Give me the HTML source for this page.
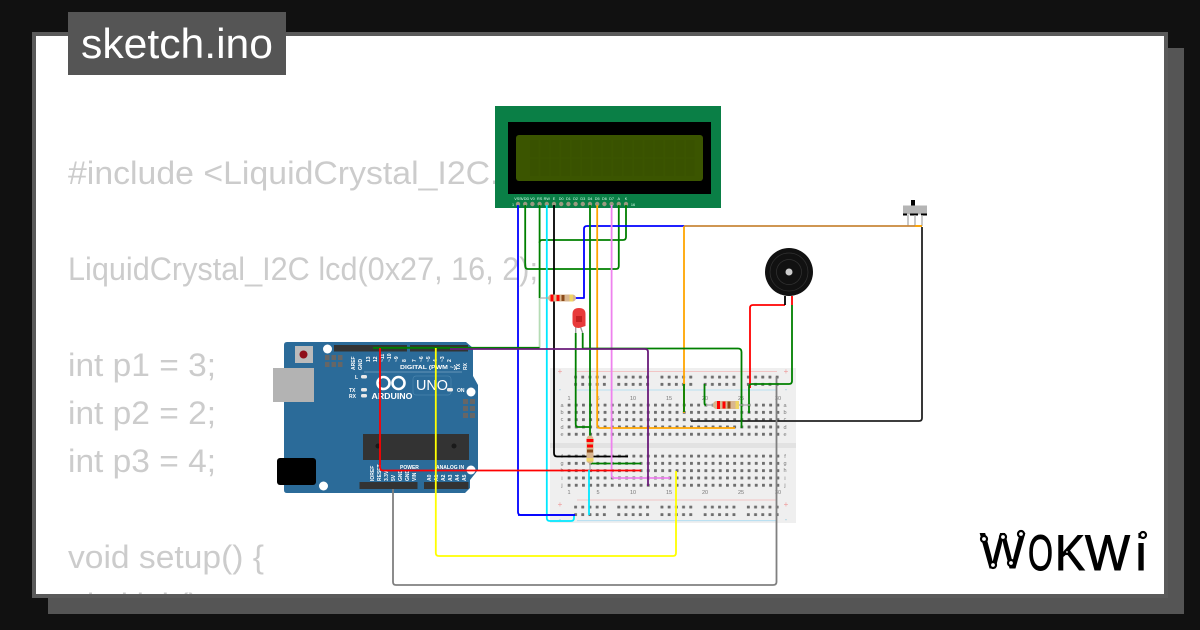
<!DOCTYPE html>
<html><head><meta charset="utf-8"><style>
html,body{margin:0;padding:0;background:#111;width:1200px;height:630px;overflow:hidden}
svg{display:block}
text{font-family:"Liberation Sans",sans-serif}
</style></head><body>
<svg width="1200" height="630" viewBox="0 0 1200 630" xmlns="http://www.w3.org/2000/svg">
<defs>
<pattern id="mh" x="567.6" y="403.6" width="7.2" height="7.3" patternUnits="userSpaceOnUse"><rect x="0" y="0" width="2.9" height="2.9" rx=".4" fill="#6e6e6e"/></pattern>
<pattern id="rh" x="574.1" y="375.6" width="43.2" height="7.3" patternUnits="userSpaceOnUse"><rect x="0" width="2.9" height="2.9" rx=".4" fill="#6e6e6e"/><rect x="7.2" width="2.9" height="2.9" rx=".4" fill="#6e6e6e"/><rect x="14.4" width="2.9" height="2.9" rx=".4" fill="#6e6e6e"/><rect x="21.6" width="2.9" height="2.9" rx=".4" fill="#6e6e6e"/><rect x="28.8" width="2.9" height="2.9" rx=".4" fill="#6e6e6e"/></pattern>
<pattern id="rh2" x="574.1" y="505.6" width="43.2" height="7.6" patternUnits="userSpaceOnUse"><rect x="0" width="2.9" height="2.9" rx=".4" fill="#6e6e6e"/><rect x="7.2" width="2.9" height="2.9" rx=".4" fill="#6e6e6e"/><rect x="14.4" width="2.9" height="2.9" rx=".4" fill="#6e6e6e"/><rect x="21.6" width="2.9" height="2.9" rx=".4" fill="#6e6e6e"/><rect x="28.8" width="2.9" height="2.9" rx=".4" fill="#6e6e6e"/></pattern>
<pattern id="mh2" x="567.6" y="454.6" width="7.2" height="7.3" patternUnits="userSpaceOnUse"><rect x="0" y="0" width="2.9" height="2.9" rx=".4" fill="#6e6e6e"/></pattern>
<pattern id="cells" x="530" y="140" width="10.4" height="18.5" patternUnits="userSpaceOnUse"><rect width="8.8" height="17.5" fill="#395200"/></pattern>
<clipPath id="paper"><rect x="36" y="36" width="1128" height="558"/></clipPath>
</defs>
<rect width="1200" height="630" fill="#111"/>
<rect x="48" y="48" width="1136" height="566" fill="#555"/>
<rect x="34" y="34" width="1132" height="562" fill="#fff" stroke="#5a5a5a" stroke-width="4"/>
<g clip-path="url(#paper)" fill="#ccc" font-size="32">
<text x="68" y="184" textLength="470" lengthAdjust="spacingAndGlyphs">#include &lt;LiquidCrystal_I2C.h&gt;</text>
<text x="68" y="280" textLength="470" lengthAdjust="spacingAndGlyphs">LiquidCrystal_I2C lcd(0x27, 16, 2);</text>
<text x="68" y="376" textLength="148" lengthAdjust="spacingAndGlyphs">int p1 = 3;</text>
<text x="68" y="424" textLength="148" lengthAdjust="spacingAndGlyphs">int p2 = 2;</text>
<text x="68" y="472" textLength="148" lengthAdjust="spacingAndGlyphs">int p3 = 4;</text>
<text x="68" y="568" textLength="196" lengthAdjust="spacingAndGlyphs">void setup() {</text>
<text x="87" y="616">lcd.init();</text>
</g>
<rect x="68" y="12" width="218" height="63" fill="#555"/>
<text x="81" y="58" font-size="42" fill="#fff" textLength="192" lengthAdjust="spacingAndGlyphs">sketch.ino</text>

<!-- breadboard -->
<rect x="550" y="368" width="246" height="155" fill="#efefef"/>
<rect x="550" y="443" width="246" height="5" fill="#e2e2e2"/>
<path d="M577 371.500H777M577 500H777" stroke="#f3b8b8" stroke-width=".8"/>
<path d="M577 390H777M577 520.700H777" stroke="#a8dcf2" stroke-width=".8"/>
<rect x="574.100" y="375.600" width="212" height="11" fill="url(#rh)"/>
<rect x="574.100" y="505.600" width="212" height="11" fill="url(#rh2)"/>
<rect x="567.600" y="403.600" width="213" height="33" fill="url(#mh)"/>
<rect x="567.600" y="454.600" width="213" height="33" fill="url(#mh2)"/>
<g font-size="5.500" fill="#777" text-anchor="middle">
<text x="569" y="400">1</text><text x="598" y="400">5</text><text x="633" y="400">10</text><text x="669" y="400">15</text><text x="705" y="400">20</text><text x="741" y="400">25</text><text x="778" y="400">30</text>
<text x="569" y="494">1</text><text x="598" y="494">5</text><text x="633" y="494">10</text><text x="669" y="494">15</text><text x="705" y="494">20</text><text x="741" y="494">25</text><text x="778" y="494">30</text>
<text x="562" y="407">a</text><text x="562" y="414">b</text><text x="562" y="421">c</text><text x="562" y="429">d</text><text x="562" y="436">e</text>
<text x="785" y="407">a</text><text x="785" y="414">b</text><text x="785" y="421">c</text><text x="785" y="429">d</text><text x="785" y="436">e</text>
<text x="562" y="458">f</text><text x="562" y="465">g</text><text x="562" y="472">h</text><text x="562" y="480">i</text><text x="562" y="487">j</text>
<text x="785" y="458">f</text><text x="785" y="465">g</text><text x="785" y="472">h</text><text x="785" y="480">i</text><text x="785" y="487">j</text>
</g>
<g font-size="8" text-anchor="middle">
<text x="560" y="374" fill="#e99">+</text><text x="786" y="374" fill="#e99">+</text><text x="560" y="507" fill="#e99">+</text><text x="786" y="507" fill="#e99">+</text>
<text x="560" y="392" fill="#9cd">-</text><text x="786" y="392" fill="#9cd">-</text><text x="560" y="522" fill="#9cd">-</text><text x="786" y="522" fill="#9cd">-</text>
</g>

<!-- LCD -->
<rect x="495" y="106" width="226" height="102" fill="#0a7f46"/>
<rect x="508" y="122" width="203" height="72" fill="#000"/>
<rect x="516" y="135" width="187" height="46" rx="3" fill="#3b5500"/>
<rect x="530" y="140" width="166" height="36" fill="url(#cells)"/>
<g fill="#9a9a80">
<circle cx="518" cy="204" r="2.200"/><circle cx="525.200" cy="204" r="2.200"/><circle cx="532.400" cy="204" r="2.200"/><circle cx="539.600" cy="204" r="2.200"/><circle cx="546.800" cy="204" r="2.200"/><circle cx="554" cy="204" r="2.200"/><circle cx="561.200" cy="204" r="2.200"/><circle cx="568.400" cy="204" r="2.200"/><circle cx="575.600" cy="204" r="2.200"/><circle cx="582.800" cy="204" r="2.200"/><circle cx="590" cy="204" r="2.200"/><circle cx="597.200" cy="204" r="2.200"/><circle cx="604.400" cy="204" r="2.200"/><circle cx="611.600" cy="204" r="2.200"/><circle cx="618.800" cy="204" r="2.200"/><circle cx="626" cy="204" r="2.200"/>
</g>
<g font-size="3.800" fill="#dfe" text-anchor="middle">
<text x="518" y="200">VSS</text><text x="525.200" y="200">VDD</text><text x="532.400" y="200">V0</text><text x="539.600" y="200">RS</text><text x="546.800" y="200">RW</text><text x="554" y="200">E</text><text x="561.200" y="200">D0</text><text x="568.400" y="200">D1</text><text x="575.600" y="200">D2</text><text x="582.800" y="200">D3</text><text x="590" y="200">D4</text><text x="597.200" y="200">D5</text><text x="604.400" y="200">D6</text><text x="611.600" y="200">D7</text><text x="618.800" y="200">A</text><text x="626" y="200">K</text>
<text x="513" y="206">1</text><text x="633" y="206">16</text>
</g>

<!-- Arduino -->
<path d="M287 342H466L473 348V376L478 385V470L470 480V488L465 493H287Q284 493 284 490V345Q284 342 287 342Z" fill="#2b6b99"/>
<rect x="273" y="368" width="41" height="34" fill="#b3b3b3"/>
<rect x="277" y="458" width="39" height="27" rx="3" fill="#000"/>
<rect x="295" y="346" width="18" height="17" fill="#bbb"/>
<circle cx="303.500" cy="354.500" r="4" fill="#8f0f1a"/>
<circle cx="327.500" cy="349" r="4.500" fill="#fff"/><circle cx="471" cy="392" r="4.500" fill="#fff"/><circle cx="323.500" cy="486" r="4.500" fill="#fff"/><circle cx="471" cy="470" r="4.500" fill="#fff"/>
<rect x="334" y="345" width="73" height="6.500" fill="#333"/><rect x="410" y="345" width="58" height="6.500" fill="#333"/>
<rect x="359.500" y="482" width="58" height="7" fill="#333"/><rect x="424" y="482" width="44.500" height="7" fill="#333"/>
<g fill="#666"><rect x="325" y="355" width="4.500" height="5"/><rect x="325" y="362" width="4.500" height="5"/><rect x="331.500" y="355" width="4.500" height="5"/><rect x="331.500" y="362" width="4.500" height="5"/><rect x="338" y="355" width="4.500" height="5"/><rect x="338" y="362" width="4.500" height="5"/>
<rect x="463" y="399" width="5" height="5"/><rect x="470" y="399" width="5" height="5"/><rect x="463" y="406" width="5" height="5"/><rect x="470" y="406" width="5" height="5"/><rect x="463" y="413" width="5" height="5"/><rect x="470" y="413" width="5" height="5"/></g>
<rect x="363" y="434" width="106" height="26" fill="#333"/>
<circle cx="378" cy="446" r="2.500" fill="#1a1a1a"/><circle cx="454" cy="446" r="2.500" fill="#1a1a1a"/>
<circle cx="383.500" cy="383" r="6" fill="none" stroke="#fff" stroke-width="2.600"/><circle cx="398.500" cy="383" r="6" fill="none" stroke="#fff" stroke-width="2.600"/>
<text x="371.500" y="399" font-size="8" font-weight="bold" fill="#fff" textLength="41" lengthAdjust="spacingAndGlyphs">ARDUINO</text>
<text x="416" y="390" font-size="15" fill="#fff" textLength="32" lengthAdjust="spacingAndGlyphs">UNO</text>
<rect x="413" y="376" width="38" height="19" rx="3" fill="none" stroke="#4a85ad" stroke-width=".7"/>
<text x="400" y="369" font-size="5.300" font-weight="bold" fill="#fff" textLength="56" lengthAdjust="spacingAndGlyphs">DIGITAL (PWM ~)</text>
<path d="M364 372H462" stroke="#9dbdd3" stroke-width=".5"/>
<g fill="#fff" font-size="5" font-weight="bold">
<text transform="translate(355 370) rotate(-90)">AREF</text><text transform="translate(362 370) rotate(-90)">GND</text>
<text transform="translate(370 362) rotate(-90)">13</text><text transform="translate(377 362) rotate(-90)">12</text><text transform="translate(384 362) rotate(-90)">~11</text><text transform="translate(391 362) rotate(-90)">~10</text><text transform="translate(398 362) rotate(-90)">~9</text><text transform="translate(406 362) rotate(-90)">8</text>
<text transform="translate(416 362) rotate(-90)">7</text><text transform="translate(423 362) rotate(-90)">~6</text><text transform="translate(430 362) rotate(-90)">~5</text><text transform="translate(437 362) rotate(-90)">4</text><text transform="translate(444 362) rotate(-90)">~3</text><text transform="translate(451 362) rotate(-90)">2</text><text transform="translate(460 370) rotate(-90)">TX</text><text transform="translate(467 370) rotate(-90)">RX</text>
<text transform="translate(374 481) rotate(-90)">IOREF</text><text transform="translate(381 481) rotate(-90)">RESET</text><text transform="translate(388 481) rotate(-90)">3.3V</text><text transform="translate(395 481) rotate(-90)">5V</text><text transform="translate(402 481) rotate(-90)">GND</text><text transform="translate(409 481) rotate(-90)">GND</text><text transform="translate(416 481) rotate(-90)">VIN</text>
<text transform="translate(431 481) rotate(-90)">A0</text><text transform="translate(438 481) rotate(-90)">A1</text><text transform="translate(445 481) rotate(-90)">A2</text><text transform="translate(452 481) rotate(-90)">A3</text><text transform="translate(459 481) rotate(-90)">A4</text><text transform="translate(466 481) rotate(-90)">A5</text>
<text x="400" y="469">POWER</text><text x="436" y="469">ANALOG IN</text>
<text x="355" y="379">L</text><text x="349" y="392">TX</text><text x="349" y="398">RX</text><text x="457" y="392">ON</text>
</g>
<g fill="#e8e8e8"><rect x="361" y="375" width="6" height="3.500" rx="1.500"/><rect x="361" y="388" width="6" height="3.500" rx="1.500"/><rect x="361" y="394" width="6" height="3.500" rx="1.500"/><rect x="447" y="388" width="6" height="3.500" rx="1.500"/></g>

<!-- buzzer, switch -->
<circle cx="789" cy="272" r="24" fill="#111"/>
<circle cx="789" cy="272" r="19" fill="none" stroke="#333" stroke-width=".7"/><circle cx="789" cy="272" r="12.500" fill="none" stroke="#333" stroke-width=".7"/>
<circle cx="789" cy="272" r="3.500" fill="#ccc"/>
<rect x="911" y="200" width="4" height="6" fill="#000"/>
<rect x="903" y="205.500" width="24" height="9" fill="#b5b5b5"/>
<path d="M903 214.500h4M910 214.500h8M921 214.500h6" stroke="#000" stroke-width="2"/>
<path d="M908 215V226M915 215V226M922 215V226" stroke="#aaa" stroke-width="1.300"/>

<!-- LED -->
<path d="M575.700 327V333M580.500 327L582.700 333" stroke="#999" stroke-width="1.300" fill="none"/>
<path d="M572.500 322V314Q572.500 308 579 308Q585.500 308 585.500 314V326L579 328Q572.500 328 572.500 322Z" fill="#e83a3a"/>
<rect x="576" y="316" width="6" height="6" fill="#c42020"/>

<!-- wires -->
<g fill="none" stroke-width="1.800" stroke-linejoin="round">
<path d="M518 205V512Q518 515 521 515H575" stroke="#0000ff"/>
<path d="M525.200 205V266Q525.200 269 528 269H616Q618.800 269 618.800 266V205" stroke="#008000"/>
<path d="M539.600 205V298" stroke="#008000"/>
<path d="M539.600 298V348" stroke="#b5dcb5"/>
<path d="M539.600 243Q539.600 240 542 240H623Q626 240 626 237V205" stroke="#008000"/>
<path d="M546.800 205V518Q546.800 521 550 521H571Q574 521 574 518V516" stroke="#00e8ff"/>
<path d="M554 205V453Q554 456.500 557 456.500H628" stroke="#000"/>
<path d="M540 298H549" stroke="#aaa" stroke-width="1.200"/>
<path d="M575 298H584V229Q584 226 587 226H684" stroke="#0000ff"/>
<path d="M684 226V413" stroke="#ffa500"/>
<path d="M684 226H922" stroke="#c8873a"/>
<path d="M915 226H922" stroke="#ffa500"/>
<path d="M922 227V418Q922 421 919 421H691" stroke="#222"/>
<path d="M590 205V460Q590 463.500 593 463.500H641" stroke="#008000"/>
<path d="M597.200 205V425Q597.200 428 600 428H735" stroke="#ffa500"/>
<path d="M611.600 205V475Q611.600 478 614 478H670" stroke="#ee82ee"/>
<path d="M575.700 333V424Q575.700 427 578 427H590" stroke="#008000"/>
<path d="M582.700 333V348.500H738Q741.500 348.500 741.500 352V428" stroke="#008000"/>
<path d="M373 347.800H539.600" stroke="#008000"/>
<path d="M450 349H645Q648 349 648 352V486" stroke="#6a1b7a"/>
<path d="M380 348V467Q380 470.500 383 470.500H641" stroke="#ff0000"/>
<path d="M435.800 348V553Q435.800 556 439 556H673Q676 556 676 553V471" stroke="#ffff00"/>
<path d="M393 489V582Q393 585 396 585H773Q776.500 585 776.500 582V377" stroke="#808080"/>
<path d="M785 305H753Q750 305 750 308V388" stroke="#ff0000"/>
<path d="M785 296V305" stroke="#000"/>
<path d="M792 296V305" stroke="#ff0000"/>
<path d="M792 305V381Q792 384 789 384H752Q749 384 749 387V413" stroke="#008000"/>
<path d="M704.500 384V403Q704.500 405 706 405" stroke="#008000"/>
<path d="M684 384V412" stroke="#008000"/>
<path d="M589 470V515" stroke="#00e8ff"/>
<path d="M518 515H575" stroke="#0000ff"/>
</g>

<!-- resistors -->
<rect x="548" y="294.500" width="28" height="7" rx="3.500" fill="#d9b68f"/>
<rect x="550.500" y="294.500" width="3" height="7" fill="#f00"/><rect x="556.500" y="295" width="3" height="6" fill="#f00"/><rect x="561.500" y="295" width="3" height="6" fill="#8a4a1a"/><rect x="569.500" y="294.500" width="3.500" height="7" fill="#efd465"/>
<path d="M706 405H713M739 405H750" stroke="#aaa" stroke-width="1.200"/>
<rect x="713" y="401" width="26" height="8" rx="3.500" fill="#d9b68f"/>
<rect x="717" y="401" width="3" height="8" fill="#f00"/><rect x="722.500" y="401.500" width="3" height="7" fill="#f00"/><rect x="727.500" y="401.500" width="3" height="7" fill="#8a4a1a"/><rect x="735.500" y="401" width="3.500" height="8" fill="#efd465"/>
<path d="M590 463V470" stroke="#aaa" stroke-width="1.200"/>
<rect x="586.500" y="435.500" width="7" height="28" rx="3.500" fill="#d9b68f"/>
<rect x="586.500" y="439" width="7" height="3" fill="#f00"/><rect x="587" y="444.500" width="6" height="3" fill="#f00"/><rect x="587" y="449.500" width="6" height="3" fill="#8a4a1a"/><rect x="586.500" y="458" width="7" height="3.500" fill="#efd465"/>

<!-- logo -->
<g fill="#000" stroke="#000" stroke-width=".9" font-size="50">
<text x="980" y="568" textLength="45" lengthAdjust="spacingAndGlyphs">W</text>
<text x="1028" y="570" textLength="25" lengthAdjust="spacingAndGlyphs">O</text>
<text x="1055" y="570" textLength="30" lengthAdjust="spacingAndGlyphs">K</text>
<text x="1085" y="570" textLength="45" lengthAdjust="spacingAndGlyphs">W</text>
<text x="1135.500" y="570">i</text>
</g>
<g fill="#fff" stroke="#000" stroke-width="2.200">
<circle cx="984" cy="539" r="3"/><circle cx="1003" cy="537" r="3"/><circle cx="1021" cy="534" r="3"/><circle cx="993" cy="565" r="3"/><circle cx="1011" cy="563" r="3"/><circle cx="1143" cy="535" r="3"/><circle cx="1067" cy="552" r="2"/>
</g>
</svg>
</body></html>
